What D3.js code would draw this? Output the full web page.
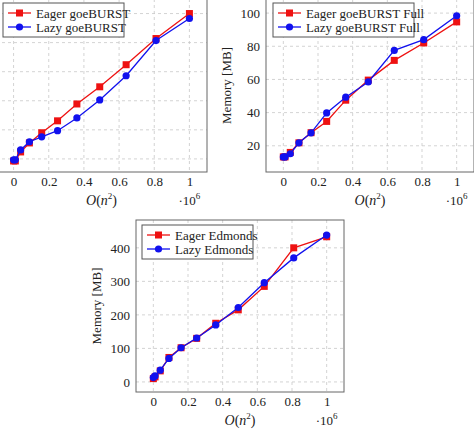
<!DOCTYPE html>
<html><head><meta charset="utf-8">
<script src="https://cdn.jsdelivr.net/npm/d3@7"></script>
<style>body{margin:0;background:#fff}svg{font-family:"Liberation Serif","DejaVu Serif",serif}</style>
</head><body>
<svg id="c" width="474" height="434"></svg>
<script>
const xs = [0, 0.01, 0.04, 0.09, 0.16, 0.25, 0.36, 0.49, 0.64, 0.81, 1];
const xTicks = [0, 0.2, 0.4, 0.6, 0.8, 1];
const eagerG = [9.3, 9.3, 12.4, 15.5, 19, 23.1, 28.9, 34.8, 42.4, 51.4, 60];
const lazyG = [9.7, 9.7, 13.1, 15.9, 17.6, 19.7, 24.1, 30.3, 38.6, 50.7, 58.3];
const gTicks = [10, 20, 30, 40, 50, 60];
const eagerF = [13.3, 13.3, 16, 21.8, 27.9, 34.7, 47.5, 59.6, 71.5, 82, 94.7];
const lazyF = [13.3, 13.3, 15.2, 21.8, 27.8, 39.8, 49.3, 58.5, 77.5, 84, 98.4];
const fTicks = [20, 40, 60, 80, 100];
const eagerE = [10, 15, 33, 73, 102, 130, 175, 215, 285, 400, 433];
const lazyE = [13, 18, 35, 70, 102, 131, 170, 222, 296, 370, 438];
const eTicks = [0, 100, 200, 300, 400];

const svg = d3.select("#c");
function panel(o){
  const x = d3.scaleLinear().domain([-0.1,1.1]).range([o.l,o.r]);
  const y = d3.scaleLinear().domain(o.yd).range([o.b,o.t]);
  const g = svg.append("g");
  g.append("g").selectAll("line").data(xTicks).join("line")
    .attr("x1",d=>x(d)).attr("x2",d=>x(d)).attr("y1",o.t).attr("y2",o.b)
    .attr("stroke","#c8c8c8").attr("stroke-dasharray","3,3").attr("stroke-width",0.8);
  g.append("g").selectAll("line").data(o.yt).join("line")
    .attr("y1",d=>y(d)).attr("y2",d=>y(d)).attr("x1",o.l).attr("x2",o.r)
    .attr("stroke","#c8c8c8").attr("stroke-dasharray","3,3").attr("stroke-width",0.8);
  g.append("rect").attr("x",o.l).attr("y",o.t).attr("width",o.r-o.l).attr("height",o.b-o.t)
    .attr("fill","none").attr("stroke","#666").attr("stroke-width",1);
  const xa = g.append("g").attr("transform",`translate(0,${o.b})`)
    .call(d3.axisBottom(x).tickValues(xTicks).tickSize(0).tickPadding(5).tickFormat(d=>d===0||d===1?String(d):d3.format(".1f")(d)));
  xa.select(".domain").remove();
  xa.selectAll("text").attr("font-size",13).attr("font-family","Liberation Serif").attr("fill","#222");
  if(o.showY){
    const ya = g.append("g").attr("transform",`translate(${o.l},0)`)
      .call(d3.axisLeft(y).tickValues(o.yt).tickSize(0).tickPadding(6));
    ya.select(".domain").remove();
    ya.selectAll("text").attr("font-size",13).attr("font-family","Liberation Serif").attr("fill","#222");
    g.append("text").attr("transform",`translate(${o.l-35},${(o.t+o.b)/2}) rotate(-90)`)
      .attr("text-anchor","middle").attr("font-size",13).attr("fill","#222").text("Memory [MB]");
  }
  const xl = g.append("text").attr("x",(x(0)+x(1))/2).attr("y",o.b+33).attr("text-anchor","middle").attr("font-size",14).attr("fill","#222");
  xl.append("tspan").attr("font-style","italic").text("O");
  xl.append("tspan").text("(");
  xl.append("tspan").attr("font-style","italic").text("n");
  xl.append("tspan").attr("font-size",9).attr("dy",-6).text("2");
  xl.append("tspan").attr("dy",6).text(")");
  const sc = g.append("text").attr("x",x(1)).attr("y",o.b+33).attr("text-anchor","middle").attr("font-size",13).attr("fill","#222");
  sc.append("tspan").text("·10");
  sc.append("tspan").attr("font-size",9).attr("dy",-6).text("6");
  const series = [{v:o.e,c:"#ee1111",sq:true},{v:o.z,c:"#1111ee",sq:false}];
  const line = d3.line().x((d,i)=>x(xs[i])).y(d=>y(d));
  series.forEach(s=>{
    g.append("path").attr("d",line(s.v)).attr("fill","none").attr("stroke",s.c).attr("stroke-width",1.3);
    if(s.sq) g.append("g").selectAll("rect").data(s.v).join("rect")
      .attr("x",(d,i)=>x(xs[i])-3.5).attr("y",d=>y(d)-3.5).attr("width",7).attr("height",7).attr("fill",s.c);
    else g.append("g").selectAll("circle").data(s.v).join("circle")
      .attr("cx",(d,i)=>x(xs[i])).attr("cy",d=>y(d)).attr("r",3.6).attr("fill",s.c);
  });
  const L = o.leg;
  g.append("rect").attr("x",L.x).attr("y",L.y).attr("width",L.w).attr("height",34).attr("fill","#fff").attr("stroke","#555");
  o.names.forEach((n,i)=>{
    const yy = L.y+10+i*14, c = i?"#1111ee":"#ee1111";
    g.append("line").attr("x1",L.x+5).attr("x2",L.x+28).attr("y1",yy).attr("y2",yy).attr("stroke",c).attr("stroke-width",1.3);
    if(i) g.append("circle").attr("cx",L.x+16.5).attr("cy",yy).attr("r",3.6).attr("fill",c);
    else g.append("rect").attr("x",L.x+13).attr("y",yy-3.5).attr("width",7).attr("height",7).attr("fill",c);
    g.append("text").attr("x",L.x+33).attr("y",yy+4.5).attr("font-size",13).attr("fill","#222").text(n);
  });
}
panel({l:-4,r:207,t:-1,b:172,yd:[5.5,65],yt:gTicks,e:eagerG,z:lazyG,showY:false,
  leg:{x:3,y:3,w:121},names:["Eager goeBURST","Lazy goeBURST"]});
panel({l:266,r:474,t:-1,b:172,yd:[4.2,108.5],yt:fTicks,e:eagerF,z:lazyF,showY:true,
  leg:{x:273,y:3,w:141},names:["Eager goeBURST Full","Lazy goeBURST Full"]});
panel({l:136,r:344,t:220,b:392,yd:[-30,483],yt:eTicks,e:eagerE,z:lazyE,showY:true,
  leg:{x:142,y:225,w:111},names:["Eager Edmonds","Lazy Edmonds"]});
</script>
</body></html>
